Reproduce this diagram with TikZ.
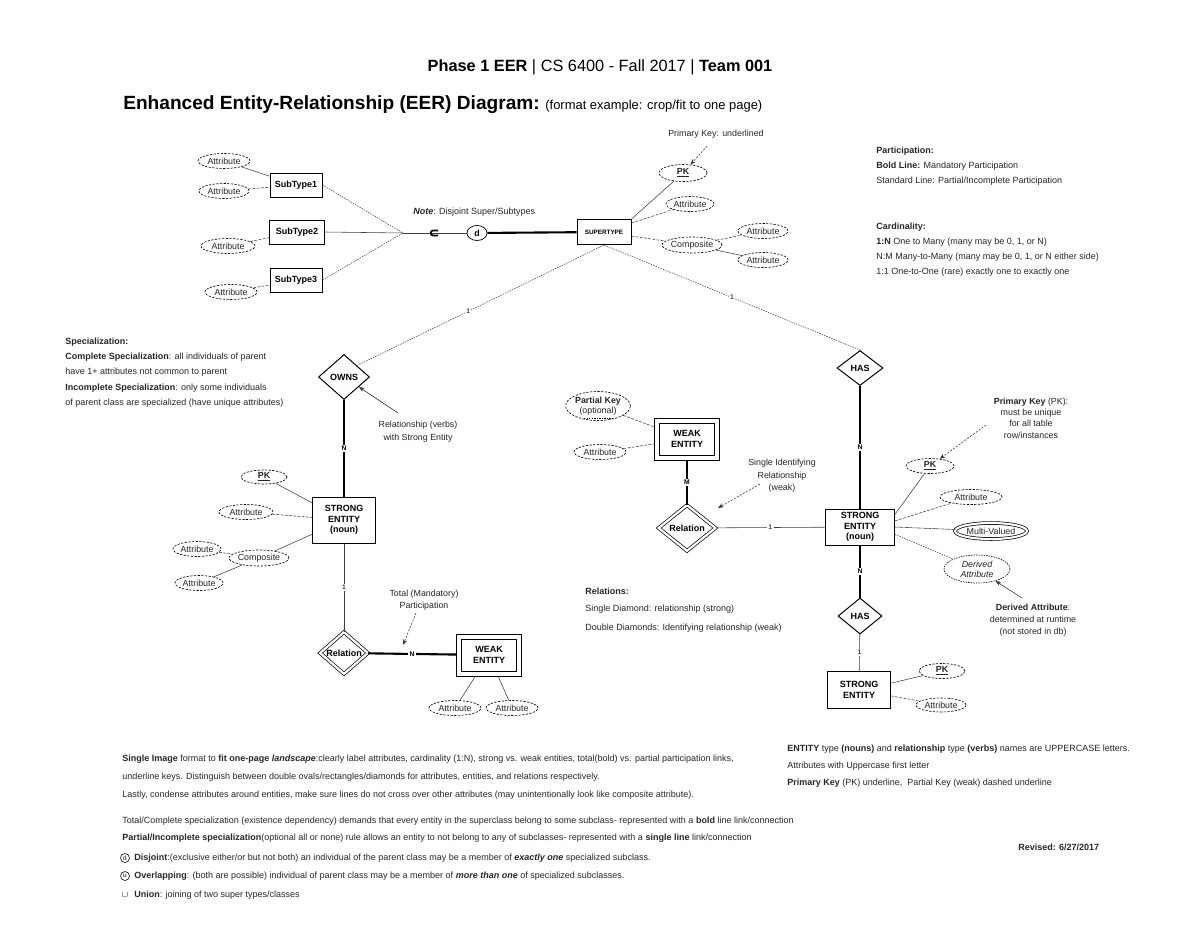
\documentclass[tikz,border=0pt]{standalone}
\usepackage{fontspec}
\setmainfont{Liberation Sans}
\usetikzlibrary{shapes.geometric,arrows.meta}
\newlength\pxl \setlength\pxl{0.025cm}
\newcommand\ftxt{\fontsize{6.4}{7.5}\selectfont}
\newcommand\fattr{\fontsize{6.3}{7}\selectfont}
\newcommand\fent{\fontsize{6.4}{7.4}\selectfont\bfseries}
\begin{document}
\begin{tikzpicture}[x=0.025cm,y=-0.025cm,
  ent/.style={draw, line width=0.7pt, align=center, font=\fent, inner sep=0pt},
  wko/.style={draw, line width=0.6pt, inner sep=0pt, minimum width=65\pxl, minimum height=42\pxl},
  wki/.style={ent, line width=0.7pt, minimum width=55\pxl, minimum height=32\pxl},
  attr/.style={ellipse, draw, dash pattern=on 1.6pt off 1pt, line width=0.45pt, inner sep=0pt, font=\fattr, align=center, text=black!85},
  rel/.style={diamond, draw, line width=0.7pt, inner sep=0pt, font=\fent},
  wrel/.style={rel, double, double distance=1.6pt, line width=0.5pt},
  ln/.style={line width=0.4pt, black!75},
  dl/.style={ln, dash pattern=on 2pt off 1pt},
  dt/.style={ln, dash pattern=on 1pt off 0.8pt},
  tl/.style={line width=1.5pt},
  lab/.style={fill=white, inner sep=1pt, font=\fontsize{4.8}{5.5}\selectfont\bfseries},
  txt/.style={anchor=west, inner sep=0pt, font=\ftxt, text=black!85},
  ctxt/.style={inner sep=0pt, font=\fontsize{6.3}{8.5}\selectfont, text=black!85, align=center},
  ptr/.style={-{Stealth[length=4pt,width=3pt]}, line width=0.4pt, black!80, dash pattern=on 1.5pt off 1pt},
]
\fill[white] (0,0) rectangle (1200,927);
\useasboundingbox (0,0) rectangle (1200,927);

% ---------- titles
\node[font=\fontsize{11.6}{13}\selectfont] (title) at (600,67) {\textbf{Phase 1 EER} | CS 6400 - Fall 2017 | \textbf{Team 001}};
\node[anchor=base west, font=\fontsize{13.6}{15}\selectfont\bfseries, inner sep=0pt] (head) at (123,109) {Enhanced Entity-Relationship (EER) Diagram:};
\node[anchor=base west, font=\fontsize{9.2}{10}\selectfont, inner sep=0pt, xshift=5\pxl] (headsub) at (head.base east) {(format example: crop/fit to one page)};

% ---------- subtypes
\node[ent, minimum width=52\pxl, minimum height=24\pxl] (st1) at (296,185) {SubType1};
\node[ent, minimum width=55\pxl, minimum height=24\pxl] (st2) at (297,232) {SubType2};
\node[ent, minimum width=52\pxl, minimum height=24\pxl] (st3) at (296,280) {SubType3};
\node[attr, minimum width=52\pxl, minimum height=15\pxl] (a1) at (224,161) {Attribute};
\node[attr, minimum width=50\pxl, minimum height=15\pxl] (a2) at (224,191) {Attribute};
\node[attr, minimum width=54\pxl, minimum height=15\pxl] (a3) at (228,246) {Attribute};
\node[attr, minimum width=52\pxl, minimum height=15\pxl] (a4) at (231,292) {Attribute};
\draw[ln] (a1) -- (st1);
\draw[dl] (a2) -- (st1);
\draw[dl] (a3) -- (st2);
\draw[dl] (a4) -- (st3);
\coordinate (jn) at (403,233);
\draw[dt] (st1.east) -- (jn);
\draw[ln] (st2.east) -- (jn);
\draw[dt] (st3.east) -- (jn);
\node[ellipse, draw, line width=0.5pt, minimum width=20\pxl, minimum height=15\pxl, inner sep=0pt, font=\fontsize{6.3}{7}\selectfont\bfseries] (dn) at (477,233) {d};
\draw[ln] (jn) -- (dn);
\draw[line width=1.2pt] (438,230.5) -- (433,230.5) .. controls (430,230.5) and (430,235.5) .. (433,235.5) -- (438,235.5);
\node[txt] (note) at (413,212) {\textbf{\textit{Note}}: Disjoint Super/Subtypes};

% ---------- supertype
\node[ent, font=\fontsize{4.5}{5}\selectfont\bfseries, minimum width=54\pxl, minimum height=25\pxl] (sup) at (604,232) {SUPERTYPE};
\draw[tl] (dn) -- (sup);
\node[attr, minimum width=48\pxl, minimum height=17\pxl, font=\fattr\bfseries] (spk) at (683,173) {\underline{PK}};
\node[attr, minimum width=48\pxl, minimum height=15\pxl] (sa1) at (690,204) {Attribute};
\node[attr, minimum width=54\pxl, minimum height=16\pxl] (scomp) at (692,245) {Composite};
\node[attr, minimum width=50\pxl, minimum height=15\pxl] (sa2) at (763,231) {Attribute};
\node[attr, minimum width=50\pxl, minimum height=15\pxl] (sa3) at (763,260) {Attribute};
\draw[ln] (sup.north east) -- (spk);
\draw[dl] (sup) -- (sa1);
\draw[dl] (sup) -- (scomp);
\draw[dl] (scomp) -- (sa2);
\draw[ln] (scomp) -- (sa3);
\node[ctxt] (pknote) at (716,134) {Primary Key: underlined};
\coordinate (pkst) at (707,146);
\draw[ptr] (pkst) -- (spk);

% ---------- OWNS branch
\node[rel, minimum width=51\pxl, minimum height=45\pxl] (owns) at (344,377) {OWNS};
\node[rel, minimum width=46\pxl, minimum height=35\pxl] (has1) at (860,368) {HAS};
\draw[dt] (sup.south) -- node[lab, pos=0.55]{1} (owns.north east);
\draw[dt] (sup.south) -- node[lab]{1} (has1.north);
\node[ent, minimum width=63\pxl, minimum height=46\pxl] (se1) at (344,520) {STRONG\\ENTITY\\(noun)};
\draw[tl] (owns) -- node[lab]{N} (se1);
\node[ctxt, font=\fontsize{6.3}{9.2}\selectfont] (relnote) at (418,432) {Relationship (verbs)\\with Strong Entity};
\coordinate (relst) at (398,413);
\draw[ptr, solid] (relst) -- (owns);

\node[attr, minimum width=46\pxl, minimum height=14\pxl, font=\fattr\bfseries] (lpk) at (264,477) {\underline{PK}};
\node[attr, minimum width=54\pxl, minimum height=15\pxl] (la1) at (246,512) {Attribute};
\node[attr, minimum width=56\pxl, minimum height=16\pxl] (lcomp) at (259,558) {Composite};
\node[attr, minimum width=48\pxl, minimum height=15\pxl] (la2) at (197,549) {Attribute};
\node[attr, minimum width=48\pxl, minimum height=15\pxl] (la3) at (199,583) {Attribute};
\draw[ln] (lpk) -- (se1);
\draw[dl] (la1) -- (se1);
\draw[ln] (lcomp) -- (se1);
\draw[dl] (la2) -- (lcomp);
\draw[ln] (la3) -- (lcomp);

\node[wrel, minimum width=48\pxl, minimum height=41\pxl] (rel1) at (344,653) {Relation};
\draw[ln] (se1) -- node[lab]{1} (rel1);
\node[wko] (wk1) at (489,655) {};
\node[wki] (wk1i) at (489,655) {WEAK\\ENTITY};
\draw[tl] (rel1) -- node[lab]{N} (wk1);
\node[ctxt] (totnote) at (424,600) {Total (Mandatory)\\Participation};
\coordinate (totst) at (416,613);
\coordinate (totend) at (403,645);
\draw[ptr] (totst) -- (totend);
\node[attr, minimum width=52\pxl, minimum height=15\pxl] (wa1) at (455,708) {Attribute};
\node[attr, minimum width=52\pxl, minimum height=15\pxl] (wa2) at (512,708) {Attribute};
\draw[ln] (wk1) -- (wa1);
\draw[ln] (wk1) -- (wa2);

% ---------- middle weak entity
\node[wko] (wk2) at (687,439) {};
\node[wki] (wk2i) at (687,439) {WEAK\\ENTITY};
\node[attr, minimum width=62\pxl, minimum height=29\pxl] (pkey) at (598,406) {\textbf{Partial Key}\\(optional)};
\draw[dash pattern=on 1pt off 0.8pt, line width=0.4pt] (584,418) -- (613,418);
\node[attr, minimum width=52\pxl, minimum height=15\pxl] (wa3) at (600,452) {Attribute};
\draw[dl] (pkey) -- (wk2);
\draw[dl] (wa3) -- (wk2);
\node[wrel, minimum width=57\pxl, minimum height=46\pxl] (rel2) at (687,528) {Relation};
\draw[tl] (wk2) -- node[lab]{M} (rel2);
\node[ent, minimum width=69\pxl, minimum height=36\pxl] (se2) at (860,527) {STRONG\\ENTITY\\(noun)};
\draw[ln] (rel2) -- node[lab]{1} (se2);
\draw[tl] (has1) -- node[lab]{N} (se2);
\node[ctxt, font=\fontsize{6.3}{8.8}\selectfont] (sinote) at (782,476) {Single Identifying\\Relationship\\(weak)};
\coordinate (sist) at (760,484);
\coordinate (siend) at (718,508);
\draw[ptr] (sist) -- (siend);

% ---------- right attributes
\node[attr, minimum width=48\pxl, minimum height=15\pxl, font=\fattr\bfseries] (rpk) at (930,466) {\underline{PK}};
\node[attr, minimum width=62\pxl, minimum height=15\pxl] (ra1) at (971,497) {Attribute};
\node[ellipse, draw, double, double distance=1.5pt, line width=0.5pt, minimum width=72\pxl, minimum height=16\pxl, inner sep=0pt, font=\fattr, text=black!85] (mv) at (991,531) {Multi-Valued};
\node[attr, dash pattern=on 1pt off 0.8pt, minimum width=66\pxl, minimum height=28\pxl, font=\fattr\itshape] (der) at (977,569) {Derived\\Attribute};
\draw[ln] (se2.20) -- (rpk);
\draw[dl] (se2.10) -- (ra1);
\draw[ln, dash pattern=on 6pt off 0.6pt] (se2.east) -- (mv);
\draw[dt] (se2.-12) -- (der);
\node[ctxt, font=\fontsize{6.3}{8.1}\selectfont] (pknote2) at (1031,418) {\textbf{Primary Key} (PK):\\must be unique\\for all table\\row/instances};
\coordinate (pkst2) at (986,425);
\draw[ptr] (pkst2) -- (rpk);
\node[ctxt, font=\fontsize{6.3}{8.4}\selectfont] (dernote) at (1033,620) {\textbf{Derived Attribute}:\\determined at runtime\\(not stored in db)};
\coordinate (derst) at (1022,598);
\draw[ptr, solid] (derst) -- (der);

% ---------- lower right
\node[rel, minimum width=44\pxl, minimum height=36\pxl] (has2) at (860,616) {HAS};
\draw[tl] (se2) -- node[lab]{N} (has2);
\node[ent, minimum width=63\pxl, minimum height=37\pxl] (se3) at (859,690) {STRONG\\ENTITY};
\draw[ln] (has2) -- node[lab]{1} (se3);
\node[attr, minimum width=46\pxl, minimum height=15\pxl, font=\fattr\bfseries] (bpk) at (942,671) {\underline{PK}};
\node[attr, minimum width=50\pxl, minimum height=14\pxl] (ba1) at (941,705) {Attribute};
\draw[ln] (se3.12) -- (bpk);
\draw[dl] (se3) -- (ba1);

% ---------- legends
\node[txt] (p1) at (876,151) {\textbf{Participation:}};
\node[txt] (p2) at (876,166) {\textbf{Bold Line:} Mandatory Participation};
\node[txt] (p3) at (876,181) {Standard Line: Partial/Incomplete Participation};
\node[txt] (c1) at (876,227) {\textbf{Cardinality:}};
\node[txt] (c2) at (876,242) {\textbf{1:N} One to Many (many may be 0, 1, or N)};
\node[txt] (c3) at (876,257) {N:M Many-to-Many (many may be 0, 1, or N either side)};
\node[txt] (c4) at (876,272) {1:1 One-to-One (rare) exactly one to exactly one};

\node[txt] (s1) at (65,342) {\textbf{Specialization:}};
\node[txt] (s2) at (65,357) {\textbf{Complete Specialization}: all individuals of parent};
\node[txt] (s3) at (65,372) {have 1+ attributes not common to parent};
\node[txt] (s4) at (65,388) {\textbf{Incomplete Specialization}: only some individuals};
\node[txt] (s5) at (65,403) {of parent class are specialized (have unique attributes)};

\node[txt] (r1) at (585,591) {\textbf{Relations:}};
\node[txt] (r2) at (585,609) {Single Diamond: relationship (strong)};
\node[txt] (r3) at (585,628) {Double Diamonds: Identifying relationship (weak)};

\node[txt] (b1) at (122,759) {\textbf{Single Image} format to \textbf{fit one-page \textit{landscape}}:clearly label attributes, cardinality (1:N), strong vs. weak entities, total(bold) vs. partial participation links,};
\node[txt] (b2) at (122,777) {underline keys. Distinguish between double ovals/rectangles/diamonds for attributes, entities, and relations respectively.};
\node[txt] (b3) at (122,795) {Lastly, condense attributes around entities, make sure lines do not cross over other attributes (may unintentionally look like composite attribute).};
\node[txt] (b4) at (122,821) {Total/Complete specialization (existence dependency) demands that every entity in the superclass belong to some subclass- represented with a \textbf{bold} line link/connection};
\node[txt] (b5) at (122,838) {\textbf{Partial/Incomplete specialization}(optional all or none) rule allows an entity to not belong to any of subclasses- represented with a \textbf{single line} link/connection};
\node[circle, draw, line width=0.4pt, inner sep=0pt, minimum size=9\pxl, font=\fontsize{4.5}{5}\selectfont] (sd) at (125,858) {d};
\node[circle, draw, line width=0.4pt, inner sep=0pt, minimum size=9\pxl, font=\fontsize{4.5}{5}\selectfont] (su) at (125,876) {u};
\node[inner sep=0pt, font=\ftxt] (sun) at (125,895) {$\cup$};
\node[txt] (b6) at (134,858) {\textbf{Disjoint}:(exclusive either/or but not both) an individual of the parent class may be a member of \textbf{\textit{exactly one}} specialized subclass.};
\node[txt] (b7) at (134,876) {\textbf{Overlapping}: (both are possible) individual of parent class may be a member of \textbf{\textit{more than one}} of specialized subclasses.};
\node[txt] (b8) at (134,895) {\textbf{Union}: joining of two super types/classes};

\node[txt] (e1) at (787,749) {\textbf{ENTITY} type \textbf{(nouns)} and \textbf{relationship} type \textbf{(verbs)} names are UPPERCASE letters.};
\node[txt] (e2) at (787,766) {Attributes with Uppercase first letter};
\node[txt] (e3) at (787,783) {\textbf{Primary Key} (PK) underline,\ \ Partial Key (weak) dashed underline};
\node[txt] (rev) at (1018,847) {\textbf{Revised: 6/27/2017}};
\end{tikzpicture}
\end{document}
